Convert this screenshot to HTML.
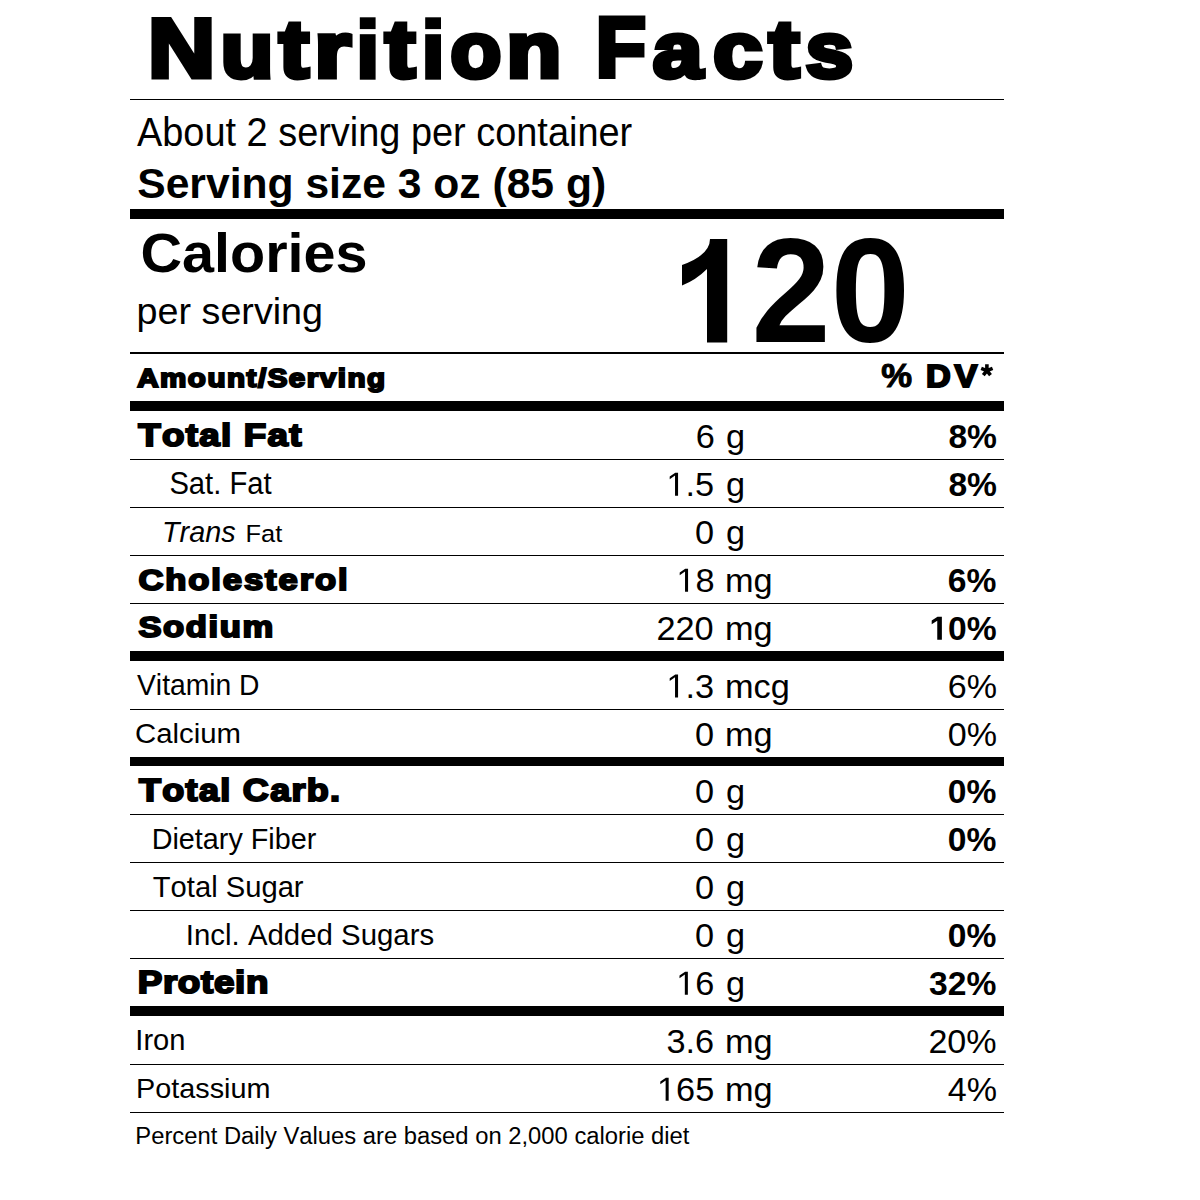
<!DOCTYPE html>
<html><head><meta charset="utf-8"><title>Nutrition Facts</title>
<style>
html,body{margin:0;padding:0;background:#fff;width:1200px;height:1200px;overflow:hidden}
svg{display:block}
text{font-family:"Liberation Sans",sans-serif;fill:#000;font-kerning:none}
.r{font-weight:400}
.b{font-weight:700}
.h{font-weight:700;stroke:#000;stroke-linejoin:miter;paint-order:stroke}
.i{font-weight:400;font-style:italic}
.x{fill:none;stroke:none}
rect,path{fill:#000}
</style></head>
<body><svg width="1200" height="1200" viewBox="0 0 1200 1200">
<rect x="0" y="0" width="1200" height="1200" style="fill:#fff"/>
<rect x="130" y="99" width="874" height="1"/><rect x="130" y="209" width="874" height="10"/><rect x="130" y="352" width="874" height="2"/><rect x="130" y="401" width="874" height="10"/><rect x="130" y="459" width="874" height="1"/><rect x="130" y="507" width="874" height="1"/><rect x="130" y="555" width="874" height="1"/><rect x="130" y="603" width="874" height="1"/><rect x="130" y="651" width="874" height="10"/><rect x="130" y="709" width="874" height="1"/><rect x="130" y="757" width="874" height="9"/><rect x="130" y="814" width="874" height="1"/><rect x="130" y="862" width="874" height="1"/><rect x="130" y="910" width="874" height="1"/><rect x="130" y="958" width="874" height="1"/><rect x="130" y="1006" width="874" height="10"/><rect x="130" y="1064" width="874" height="1"/><rect x="130" y="1112" width="874" height="1"/>
<path style="fill:none;stroke:#000;stroke-width:3.6" d="M986.9,370.6 L986.9,364.2 M986.9,370.6 L981.2,368.4 M986.9,370.6 L992.6,368.4 M986.9,370.6 L983.3,375.2 M986.9,370.6 L990.5,375.2"/><rect x="359.8" y="34.2" width="15.8" height="45.5"/><rect x="359.8" y="17.3" width="15.8" height="11.8"/><rect x="425.2" y="34.2" width="15.8" height="45.5"/><rect x="425.2" y="17.3" width="15.8" height="11.8"/><path d="M710,239 L727.2,239 L727.2,342.4 L707,342.4 L707,269 Q696,280 682,285.5 L682,265 Q710,255 710,239 Z"/>
<g id="tc0" transform="translate(148.00 77.20) scale(1.1038 1)"><text class="h" style="font-size:84.30px;stroke-width:5.00px;letter-spacing:0.000px">N</text></g>
<g id="tc1" transform="translate(220.80 77.20) scale(1.1168 1)"><text class="h" style="font-size:77.00px;stroke-width:5.00px;letter-spacing:0.000px">u</text></g>
<g id="tc2" transform="translate(279.00 77.20) scale(1.0970 1)"><text class="h" style="font-size:82.00px;stroke-width:5.00px;letter-spacing:0.000px">t</text></g>
<g id="tc3" transform="translate(314.60 77.20) scale(1.2155 1)"><text class="h" style="font-size:77.00px;stroke-width:5.00px;letter-spacing:0.000px">r</text></g>
<g id="tc4" transform="translate(385.00 77.20) scale(1.1069 1)"><text class="h" style="font-size:82.00px;stroke-width:5.00px;letter-spacing:0.000px">t</text></g>
<g id="tc5" transform="translate(450.50 77.20) scale(1.0784 1)"><text class="h" style="font-size:77.00px;stroke-width:5.00px;letter-spacing:0.000px">o</text></g>
<g id="tc6" transform="translate(506.60 77.20) scale(1.1635 1)"><text class="h" style="font-size:77.00px;stroke-width:5.00px;letter-spacing:0.000px">n</text></g>
<g id="tc7" transform="translate(595.80 77.20) scale(0.9753 1)"><text class="h" style="font-size:84.30px;stroke-width:5.00px;letter-spacing:0.000px">F</text></g>
<g id="tc8" transform="translate(653.00 77.20) scale(1.1551 1)"><text class="h" style="font-size:77.00px;stroke-width:5.00px;letter-spacing:0.000px">a</text></g>
<g id="tc9" transform="translate(713.20 77.20) scale(1.1468 1)"><text class="h" style="font-size:77.00px;stroke-width:5.00px;letter-spacing:0.000px">c</text></g>
<g id="tc10" transform="translate(768.80 77.20) scale(1.1234 1)"><text class="h" style="font-size:82.00px;stroke-width:5.00px;letter-spacing:0.000px">t</text></g>
<g id="tc11" transform="translate(805.80 77.20) scale(1.1030 1)"><text class="h" style="font-size:77.00px;stroke-width:5.00px;letter-spacing:0.000px">s</text></g>
<g id="about" transform="translate(137.00 145.70) scale(0.9383 1)"><text class="r" style="font-size:40.41px">About 2 serving per container</text></g>
<g id="ssize" transform="translate(137.25 197.50) scale(0.9920 1)"><text class="b" style="font-size:42.97px">Serving size 3 oz (85 g)</text></g>
<g id="cal" transform="translate(140.50 272.10) scale(1.0254 1)"><text class="b" style="font-size:56.14px">Calories</text></g>
<g id="perserv" transform="translate(136.60 324.20) scale(1.0057 1)"><text class="r" style="font-size:37.48px">per serving</text></g>
<g id="c120" transform="translate(751.60 342.40) scale(0.9548 1)"><text class="b" style="font-size:148.95px">20</text></g>
<g id="amt" transform="translate(137.20 387.00) scale(1.1500 1)"><text class="h" style="font-size:25.73px;stroke-width:2.00px;letter-spacing:1.304px">Amount/Serving</text></g>
<g id="dvp" transform="translate(881.20 387.40) scale(1.0659 1)"><text class="h" style="font-size:32.55px;stroke-width:1.00px;letter-spacing:0.000px">%</text></g>
<g id="dvD" transform="translate(925.90 386.90) scale(1.1000 1)"><text class="h" style="font-size:31.11px;stroke-width:2.00px;letter-spacing:3.636px">DV</text></g>
<g id="n0" transform="translate(138.30 446.00) scale(1.1500 1)"><text class="h" style="font-size:31.98px;stroke-width:2.00px;letter-spacing:1.087px">Total Fat</text></g>
<g id="am0" transform="translate(695.65 447.80) scale(1.0273 1)"><text class="r" style="font-size:33.40px">6</text></g>
<g id="un0" transform="translate(726.00 447.80) scale(1.0273 1)"><text class="r" style="font-size:33.40px">g</text></g>
<g id="dv0" transform="translate(948.40 447.80) scale(1.0075 1)"><text class="b" style="font-size:33.40px">8%</text></g>
<g id="n1" transform="translate(169.40 493.75) scale(0.9598 1)"><text class="r" style="font-size:30.43px">Sat. Fat</text></g>
<g id="am1" transform="translate(666.40 495.80) scale(1.0273 1)"><text class="r" style="font-size:33.40px"><tspan class="x">1</tspan>.5</text><path transform="translate(0.000 0) scale(0.01631 -0.01631)" d="M515,0 L515,1237 L197,1010 L197,1180 L530,1409 L696,1409 L696,0 Z"/></g>
<g id="un1" transform="translate(726.00 495.80) scale(1.0273 1)"><text class="r" style="font-size:33.40px">g</text></g>
<g id="dv1" transform="translate(948.40 495.80) scale(1.0075 1)"><text class="b" style="font-size:33.40px">8%</text></g>
<g id="am2" transform="translate(695.10 543.80) scale(1.0273 1)"><text class="r" style="font-size:33.40px">0</text></g>
<g id="un2" transform="translate(726.00 543.80) scale(1.0273 1)"><text class="r" style="font-size:33.40px">g</text></g>
<g id="n3" transform="translate(138.40 589.50) scale(1.1500 1)"><text class="h" style="font-size:30.08px;stroke-width:2.00px;letter-spacing:1.652px">Cholesterol</text></g>
<g id="am3" transform="translate(676.40 591.80) scale(1.0273 1)"><text class="r" style="font-size:33.40px"><tspan class="x">1</tspan>8</text><path transform="translate(0.000 0) scale(0.01631 -0.01631)" d="M515,0 L515,1237 L197,1010 L197,1180 L530,1409 L696,1409 L696,0 Z"/></g>
<g id="un3" transform="translate(725.00 591.80) scale(1.0273 1)"><text class="r" style="font-size:33.40px">mg</text></g>
<g id="dv3" transform="translate(947.80 591.80) scale(1.0075 1)"><text class="b" style="font-size:33.40px">6%</text></g>
<g id="n4" transform="translate(138.40 637.40) scale(1.1500 1)"><text class="h" style="font-size:30.08px;stroke-width:2.00px;letter-spacing:1.391px">Sodium</text></g>
<g id="am4" transform="translate(656.40 639.80) scale(1.0273 1)"><text class="r" style="font-size:33.40px">220</text></g>
<g id="un4" transform="translate(725.00 639.80) scale(1.0273 1)"><text class="r" style="font-size:33.40px">mg</text></g>
<g id="dv4" transform="translate(929.40 639.80) scale(1.0075 1)"><text class="b" style="font-size:33.40px"><tspan class="x">1</tspan>0%</text><path transform="translate(0.000 0) scale(0.01631 -0.01631)" d="M478,0 L478,1170 L140,959 L140,1180 L493,1409 L759,1409 L759,0 Z"/></g>
<g id="n5" transform="translate(137.00 695.00) scale(0.9879 1)"><text class="r" style="font-size:28.63px">Vitamin D</text></g>
<g id="am5" transform="translate(666.40 697.50) scale(1.0273 1)"><text class="r" style="font-size:33.40px"><tspan class="x">1</tspan>.3</text><path transform="translate(0.000 0) scale(0.01631 -0.01631)" d="M515,0 L515,1237 L197,1010 L197,1180 L530,1409 L696,1409 L696,0 Z"/></g>
<g id="un5" transform="translate(725.00 697.50) scale(1.0273 1)"><text class="r" style="font-size:33.40px">mcg</text></g>
<g id="dv5" transform="translate(947.80 697.50) scale(1.0203 1)"><text class="r" style="font-size:33.40px">6%</text></g>
<g id="n6" transform="translate(135.00 742.80) scale(1.0512 1)"><text class="r" style="font-size:27.93px">Calcium</text></g>
<g id="am6" transform="translate(695.10 745.50) scale(1.0273 1)"><text class="r" style="font-size:33.40px">0</text></g>
<g id="un6" transform="translate(725.00 745.50) scale(1.0273 1)"><text class="r" style="font-size:33.40px">mg</text></g>
<g id="dv6" transform="translate(947.80 745.50) scale(1.0203 1)"><text class="r" style="font-size:33.40px">0%</text></g>
<g id="n7" transform="translate(139.00 800.80) scale(1.1500 1)"><text class="h" style="font-size:31.25px;stroke-width:2.00px;letter-spacing:1.174px">Total Carb.</text></g>
<g id="am7" transform="translate(695.10 802.80) scale(1.0273 1)"><text class="r" style="font-size:33.40px">0</text></g>
<g id="un7" transform="translate(726.00 802.80) scale(1.0273 1)"><text class="r" style="font-size:33.40px">g</text></g>
<g id="dv7" transform="translate(947.80 802.80) scale(1.0075 1)"><text class="b" style="font-size:33.40px">0%</text></g>
<g id="n8" transform="translate(151.70 848.75) scale(0.9924 1)"><text class="r" style="font-size:29.00px">Dietary Fiber</text></g>
<g id="am8" transform="translate(695.10 850.80) scale(1.0273 1)"><text class="r" style="font-size:33.40px">0</text></g>
<g id="un8" transform="translate(726.00 850.80) scale(1.0273 1)"><text class="r" style="font-size:33.40px">g</text></g>
<g id="dv8" transform="translate(947.80 850.80) scale(1.0075 1)"><text class="b" style="font-size:33.40px">0%</text></g>
<g id="n9" transform="translate(152.75 896.75) scale(0.9918 1)"><text class="r" style="font-size:29.43px">Total Sugar</text></g>
<g id="am9" transform="translate(695.10 898.80) scale(1.0273 1)"><text class="r" style="font-size:33.40px">0</text></g>
<g id="un9" transform="translate(726.00 898.80) scale(1.0273 1)"><text class="r" style="font-size:33.40px">g</text></g>
<g id="n10" transform="translate(185.80 944.90) scale(1.0167 1)"><text class="r" style="font-size:28.92px">Incl. Added Sugars</text></g>
<g id="am10" transform="translate(695.10 946.80) scale(1.0273 1)"><text class="r" style="font-size:33.40px">0</text></g>
<g id="un10" transform="translate(726.00 946.80) scale(1.0273 1)"><text class="r" style="font-size:33.40px">g</text></g>
<g id="dv10" transform="translate(947.80 946.80) scale(1.0075 1)"><text class="b" style="font-size:33.40px">0%</text></g>
<g id="n11" transform="translate(137.70 993.30) scale(1.1500 1)"><text class="h" style="font-size:31.98px;stroke-width:2.00px;letter-spacing:0.580px">Protein</text></g>
<g id="am11" transform="translate(676.20 994.80) scale(1.0273 1)"><text class="r" style="font-size:33.40px"><tspan class="x">1</tspan>6</text><path transform="translate(0.000 0) scale(0.01631 -0.01631)" d="M515,0 L515,1237 L197,1010 L197,1180 L530,1409 L696,1409 L696,0 Z"/></g>
<g id="un11" transform="translate(726.00 994.80) scale(1.0273 1)"><text class="r" style="font-size:33.40px">g</text></g>
<g id="dv11" transform="translate(929.00 994.80) scale(1.0075 1)"><text class="b" style="font-size:33.40px">32%</text></g>
<g id="n12" transform="translate(135.30 1050.30) scale(1.0009 1)"><text class="r" style="font-size:29.07px">Iron</text></g>
<g id="am12" transform="translate(666.50 1052.80) scale(1.0273 1)"><text class="r" style="font-size:33.40px">3.6</text></g>
<g id="un12" transform="translate(725.00 1052.80) scale(1.0273 1)"><text class="r" style="font-size:33.40px">mg</text></g>
<g id="dv12" transform="translate(928.40 1052.80) scale(1.0203 1)"><text class="r" style="font-size:33.40px">20%</text></g>
<g id="n13" transform="translate(136.00 1098.30) scale(1.0117 1)"><text class="r" style="font-size:28.49px">Potassium</text></g>
<g id="am13" transform="translate(657.00 1100.70) scale(1.0273 1)"><text class="r" style="font-size:33.40px"><tspan class="x">1</tspan>65</text><path transform="translate(0.000 0) scale(0.01631 -0.01631)" d="M515,0 L515,1237 L197,1010 L197,1180 L530,1409 L696,1409 L696,0 Z"/></g>
<g id="un13" transform="translate(725.00 1100.70) scale(1.0273 1)"><text class="r" style="font-size:33.40px">mg</text></g>
<g id="dv13" transform="translate(947.80 1100.70) scale(1.0203 1)"><text class="r" style="font-size:33.40px">4%</text></g>
<g id="trans" transform="translate(162.00 541.90) scale(0.9589 1)"><text class="i" style="font-size:30.02px">Trans</text></g>
<g id="transfat" transform="translate(245.50 541.90) scale(1.0345 1)"><text class="r" style="font-size:24.56px">Fat</text></g>
<g id="foot" transform="translate(135.30 1144.30) scale(0.9866 1)"><text class="r" style="font-size:24.13px">Percent Daily Values are based on 2,000 calorie diet</text></g>
</svg></body></html>
